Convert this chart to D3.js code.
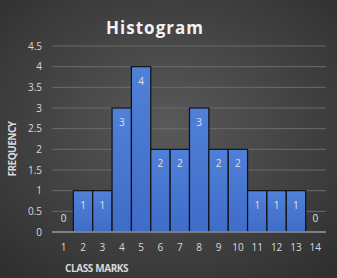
<!DOCTYPE html>
<html>
<head>
<meta charset="utf-8">
<script src="https://cdn.jsdelivr.net/npm/d3@7"></script>
<style>
  body { margin: 0; padding: 0; overflow: hidden; }
  svg { display: block; }
</style>
</head>
<body>
<div id="chart"></div>
<script>
const width = 337;
const height = 278;

// chart data
const classMarks = ["1", "2", "3", "4", "5", "6", "7", "8", "9", "10", "11", "12", "13", "14"];
const frequency = [0, 1, 1, 3, 4, 2, 2, 3, 2, 2, 1, 1, 1, 0];
const yTicks = [0, 0.5, 1, 1.5, 2, 2.5, 3, 3.5, 4, 4.5];

const margin = { top: 46, right: 12, bottom: 46, left: 54 };
const font = "'Open Sans', 'Noto Sans', sans-serif";

const svg = d3.select("#chart")
    .append("svg")
    .attr("width", width)
    .attr("height", height);

// background
const defs = svg.append("defs");
const bg = defs.append("radialGradient")
    .attr("id", "bg")
    .attr("cx", "50%").attr("cy", "45%").attr("r", "70%");
bg.append("stop").attr("offset", "0%").attr("stop-color", "#595959");
bg.append("stop").attr("offset", "100%").attr("stop-color", "#303030");

const barGrad = defs.append("linearGradient")
    .attr("id", "bar")
    .attr("x1", 0).attr("y1", 0).attr("x2", 0).attr("y2", 1);
barGrad.append("stop").attr("offset", "0%").attr("stop-color", "#5080d8");
barGrad.append("stop").attr("offset", "100%").attr("stop-color", "#3f6cc8");

svg.append("rect")
    .attr("width", width)
    .attr("height", height)
    .attr("fill", "url(#bg)");

const x = d3.scaleBand()
    .domain(classMarks)
    .range([margin.left, width - margin.right])
    .padding(0);

const y = d3.scaleLinear()
    .domain([0, 4.5])
    .range([height - margin.bottom, margin.top]);

// gridlines
svg.append("g")
    .selectAll("line")
    .data(yTicks.slice(1))
    .enter().append("line")
    .attr("x1", margin.left - 2)
    .attr("x2", width - margin.right + 1)
    .attr("y1", d => y(d))
    .attr("y2", d => y(d))
    .style("stroke", "#6b6b6b")
    .style("stroke-width", "1px");

// bars
svg.append("g")
    .selectAll("rect")
    .data(frequency)
    .enter().append("rect")
    .attr("x", (d, i) => x(classMarks[i]))
    .attr("y", d => y(d))
    .attr("width", x.bandwidth())
    .attr("height", d => y(0) - y(d))
    .style("fill", "url(#bar)")
    .style("stroke", d => d > 0 ? "#111" : "none")
    .style("stroke-width", "1.2px");

// baseline
svg.append("line")
    .attr("x1", margin.left - 2)
    .attr("x2", width - margin.right + 1)
    .attr("y1", y(0))
    .attr("y2", y(0))
    .style("stroke", "#9a9a9a")
    .style("stroke-width", "1.5px");

// data labels
svg.append("g")
    .selectAll("text")
    .data(frequency)
    .enter().append("text")
    .attr("x", (d, i) => x(classMarks[i]) + x.bandwidth() / 2)
    .attr("y", d => d > 0 ? y(d) + 18 : y(0) - 10)
    .style("text-anchor", "middle")
    .style("font-family", font)
    .style("font-size", "10px")
    .style("fill", "#e0e0e0")
    .text(d => d);

// y axis labels
svg.append("g")
    .selectAll("text")
    .data(yTicks)
    .enter().append("text")
    .attr("x", margin.left - 12)
    .attr("y", d => y(d))
    .attr("dy", "0.35em")
    .style("text-anchor", "end")
    .style("font-family", font)
    .style("font-size", "10px")
    .style("fill", "#d9d9d9")
    .text(d => d);

// x axis labels
svg.append("g")
    .selectAll("text")
    .data(classMarks)
    .enter().append("text")
    .attr("x", d => x(d) + x.bandwidth() / 2)
    .attr("y", y(0) + 19)
    .style("text-anchor", "middle")
    .style("font-family", font)
    .style("font-size", "10px")
    .style("fill", "#d9d9d9")
    .text(d => d);

// title
svg.append("text")
    .attr("x", 155)
    .attr("y", 34)
    .style("text-anchor", "middle")
    .style("font-family", font)
    .style("font-size", "17px")
    .style("font-weight", "bold")
    .style("letter-spacing", "1px")
    .style("fill", "#f2f2f2")
    .text("Histogram");

// axis titles
svg.append("text")
    .attr("x", 65)
    .attr("y", 272)
    .style("font-family", font)
    .style("font-size", "10px")
    .style("font-weight", "bold")
    .style("letter-spacing", "-0.4px")
    .style("fill", "#d9d9d9")
    .text("CLASS MARKS");

svg.append("text")
    .attr("transform", "translate(16,149) rotate(-90)")
    .style("text-anchor", "middle")
    .style("font-family", font)
    .style("font-size", "10px")
    .style("font-weight", "bold")
    .style("letter-spacing", "-0.5px")
    .style("fill", "#d9d9d9")
    .text("FREQUENCY");
</script>
</body>
</html>
